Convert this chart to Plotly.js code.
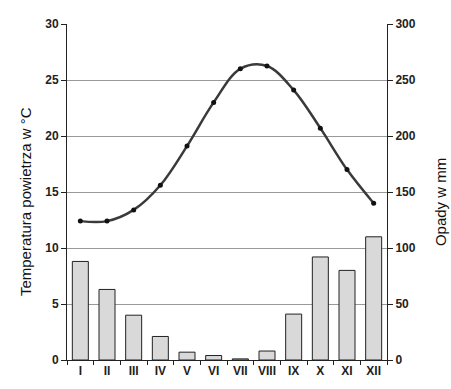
<!DOCTYPE html>
<html><head><meta charset="utf-8">
<script src="https://cdn.plot.ly/plotly-3.0.1.min.js"></script>
<style>html,body{margin:0;padding:0;background:#fff}#chart{width:451px;height:389px}</style>
</head><body><div id="chart"></div>
<script>
const months = ["I","II","III","IV","V","VI","VII","VIII","IX","X","XI","XII"];
const temperature = [12.4, 12.4, 13.4, 15.6, 19.1, 23.0, 26.0, 26.25, 24.1, 20.7, 17.0, 14.0];
const precipitation = [88, 63, 40, 21, 7, 4, 1, 8, 41, 92, 80, 110];
const leftTicks = [0, 5, 10, 15, 20, 25, 30];
const rightTicks = [0, 50, 100, 150, 200, 250, 300];
const leftTitle = "Temperatura powietrza w °C";
const rightTitle = "Opady w mm";

const tickFont = {family: "Liberation Sans, Arial, sans-serif", size: 12, color: "#222", weight: "bold"};
const titleFont = {family: "Liberation Sans, Arial, sans-serif", size: 15, color: "#111"};

const data = [
  {type: "bar", x: months, y: precipitation, yaxis: "y2",
   marker: {color: "#d9d9d9", line: {color: "#222", width: 1}}, width: 0.6, hoverinfo: "skip"},
  {type: "scatter", mode: "lines+markers", x: months, y: temperature, yaxis: "y",
   line: {color: "#3a3a3a", width: 2.5, shape: "spline", smoothing: 1},
   marker: {color: "#111", size: 5}}
];

const layout = {
  width: 451, height: 389,
  margin: {l: 67, r: 64, t: 24, b: 29},
  showlegend: false,
  paper_bgcolor: "#fff", plot_bgcolor: "#fff",
  xaxis: {type: "category", tickfont: tickFont, tickangle: 0, ticks: "outside", ticklen: 4, tickcolor: "#222",
          tickson: "boundaries", showgrid: false, showline: true, linecolor: "#222", linewidth: 1,
          range: [-0.5, 11.5], fixedrange: true, zeroline: false},
  yaxis: {range: [0, 30], tickvals: leftTicks, tickfont: tickFont, ticks: "outside", ticklen: 5,
          tickcolor: "#222", showline: true, linecolor: "#222", linewidth: 1,
          showgrid: true, gridcolor: "#999", gridwidth: 1, zeroline: false},
  yaxis2: {range: [0, 300], tickvals: rightTicks, overlaying: "y", side: "right",
           tickfont: tickFont, ticks: "outside", ticklen: 5, tickcolor: "#222",
           showline: true, linecolor: "#222", linewidth: 1, showgrid: false, zeroline: false},
  annotations: [
    {text: leftTitle, xref: "paper", yref: "paper", x: -0.13125, y: 0.47,
     xanchor: "center", yanchor: "middle", textangle: -90, showarrow: false, font: titleFont},
    {text: rightTitle, xref: "paper", yref: "paper", x: 1.1656, y: 0.47,
     xanchor: "center", yanchor: "middle", textangle: -90, showarrow: false, font: titleFont}
  ]
};

Plotly.newPlot("chart", data, layout, {displayModeBar: false, staticPlot: true});
</script></body></html>
